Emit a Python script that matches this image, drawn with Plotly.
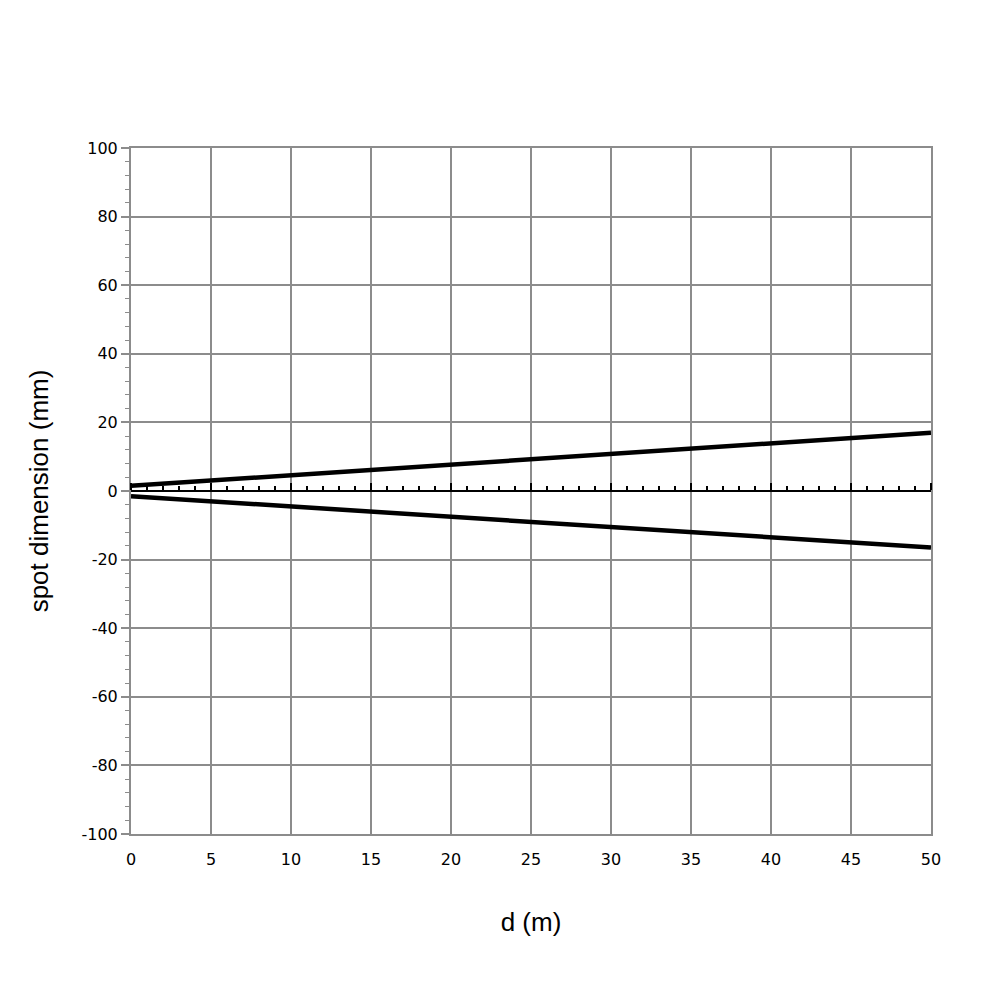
import plotly.graph_objects as go

d = [0, 50]
upper = [1.5, 17]
lower = [-1.5, -16.5]
yticks = [-100, -80, -60, -40, -20, 0, 20, 40, 60, 80, 100]
yticklabels = [str(v) for v in yticks]

fig = go.Figure()
for ys in (upper, lower):
    fig.add_trace(go.Scatter(x=d, y=ys, mode="lines", line=dict(color="black", width=4.5), showlegend=False))
fig.add_trace(go.Scatter(x=[0, 50], y=[0, 0], xaxis="x2", mode="lines",
                         line=dict(color="black", width=2), showlegend=False, hoverinfo="skip"))

fig.update_layout(
    width=1000, height=1000, paper_bgcolor="white", plot_bgcolor="white",
    margin=dict(l=123, r=77, t=140, b=174),
    font=dict(family="DejaVu Sans", size=16, color="black"),
    xaxis=dict(range=[0, 50], dtick=5, showgrid=True, gridcolor="#8c8c8c", gridwidth=2,
               showline=True, linecolor="#8c8c8c", linewidth=2, mirror=True, zeroline=False,
               ticks="outside", ticklen=10, tickcolor="rgba(0,0,0,0)",
               title=dict(text="d (m)", font=dict(family="Liberation Sans", size=26), standoff=45)),
    xaxis2=dict(range=[0, 50], overlaying="x", anchor="free", position=0.5, side="top",
                showticklabels=False, showgrid=False, showline=True, linecolor="black", linewidth=2,
                ticks="outside", dtick=5, ticklen=7, tickwidth=2, tickcolor="black",
                minor=dict(dtick=1, ticks="outside", ticklen=4, tickwidth=2, tickcolor="black")),
    yaxis=dict(range=[-100, 100], tickvals=yticks, ticktext=yticklabels, showgrid=True,
               gridcolor="#8c8c8c", gridwidth=2,
               showline=True, linecolor="#8c8c8c", linewidth=2, mirror=True, zeroline=False,
               ticks="outside", ticklen=8, tickwidth=2, tickcolor="#8c8c8c",
               minor=dict(dtick=4, ticks="outside", ticklen=4, tickwidth=1, tickcolor="#8c8c8c", showgrid=False),
               title=dict(text="spot dimension (mm)", font=dict(family="Liberation Sans", size=26), standoff=25)),
)
fig.write_html("out.html")
